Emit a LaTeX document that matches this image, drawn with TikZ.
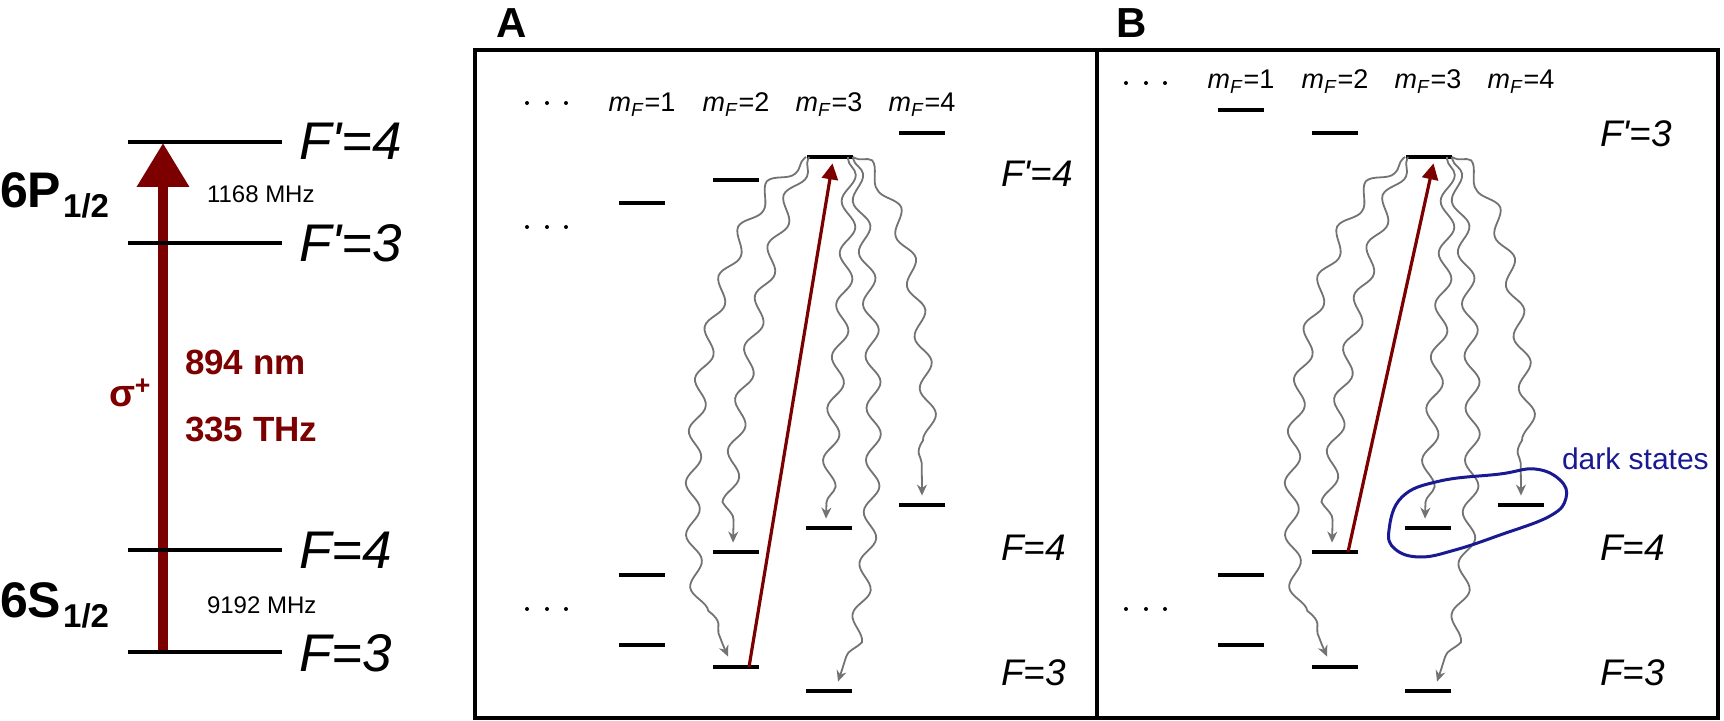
\documentclass[tikz,border=0pt]{standalone}
\usepackage{fontspec}
\setmainfont{Liberation Sans}
\usetikzlibrary{arrows.meta,decorations.pathmorphing}
\definecolor{dred}{RGB}{125,0,0}
\definecolor{wavegray}{RGB}{115,115,115}
\definecolor{darkblue}{RGB}{25,25,145}
\newcommand\paneldecays[1]{%
  \node[lvl] (#1g41) at (642,575) {};
  \node[lvl] (#1g42) at (736,552) {};
  \node[lvl] (#1g43) at (829,528) {};
  \node[lvl] (#1g44) at (922,505) {};
  \node[lvl] (#1g31) at (642,645) {};
  \node[lvl] (#1g32) at (736,667) {};
  \node[lvl] (#1g33) at (829,691) {};
  \node[lvl] (#1e3) at (829.5,157) {};
  \fill (527,609) circle[radius=1pt] (547,609) circle[radius=1pt] (566,609) circle[radius=1pt];
  \draw[decay] (#1e3.west) .. controls (700,230) and (680,560) .. ([xshift=-4pt,yshift=4pt]#1g32.north);
  \draw[decay] ([xshift=1.5pt]#1e3.west) .. controls (775,220) and (735,420) .. ([xshift=-1.5pt,yshift=3.5pt]#1g42.north);
  \draw[decay] ([xshift=-2.5pt]#1e3.east) .. controls (852,250) and (828,420) .. ([xshift=-1.5pt,yshift=3.5pt]#1g43.north);
  \draw[decay] (#1e3.east) .. controls (878,300) and (882,560) .. ([xshift=4.5pt,yshift=3.5pt]#1g33.north);
  \draw[decay] (#1e3.east) .. controls (905,185) and (922,380) .. ([yshift=3.5pt]#1g44.north);
}
\begin{document}
\begin{tikzpicture}[x=0.5pt,y=-0.5pt,
  txt/.style={inner sep=0pt, outer sep=0pt},
  bigline/.style={fill=black, inner sep=0pt, minimum width=77pt, minimum height=1.65pt},
  lvl/.style={fill=black, inner sep=0pt, minimum width=23pt, minimum height=2pt},
  bigF/.style={txt, anchor=base west, font=\fontsize{26.5}{30}\selectfont\itshape},
  panF/.style={txt, anchor=base west, font=\fontsize{18.5}{22}\selectfont\itshape},
  mlab/.style={txt, anchor=base, font=\fontsize{13.5}{16}\selectfont},
  mhz/.style={txt, anchor=base west, font=\fontsize{12}{14}\selectfont},
  redtxt/.style={txt, anchor=base west, text=dred, font=\fontsize{17.5}{20}\selectfont\bfseries},
  term/.style={txt, anchor=base west, font=\fontsize{25}{30}\selectfont\bfseries},
  panlab/.style={txt, anchor=base west, font=\fontsize{21}{25}\selectfont\bfseries},
  decay/.style={draw=wavegray, line width=0.9pt, -{Stealth[length=5.5pt,width=5pt]},
    decorate, decoration={snake, amplitude=3.6pt, segment length=26pt, pre length=1pt, post length=7pt}},
  pump/.style={draw=dred, line width=1.6pt, -{Triangle[length=8pt,width=8pt]}}
]
\useasboundingbox (0,0) rectangle (1724,721);

% ---------- left overview ----------
\coordinate (arrS) at (163,652);
\coordinate (arrE) at (163,143);
\draw[dred, line width=5pt, -{Triangle[length=22pt,width=25pt]}] (arrS) -- (arrE);
\node[bigline] (L4p) at (205,142) {};
\node[bigline] (L3p) at (205,243) {};
\node[bigline] (L4) at (205,550) {};
\node[bigline] (L3) at (205,652) {};
\node[bigF] (tL4p) at (299,160) {F\textquotesingle=4};
\node[bigF] (tL3p) at (299,262) {F\textquotesingle=3};
\node[bigF] (tL4) at (299,568) {F=4};
\node[bigF] (tL3) at (299,671) {F=3};
\node[term] (t6P) at (0,208) {6P\hspace{1pt}\raisebox{-5pt}{\fontsize{16.5}{18}\selectfont 1/2}};
\node[term] (t6S) at (0,617) {6S\hspace{1pt}\raisebox{-5pt}{\fontsize{16.5}{18}\selectfont 1/2}};
\node[mhz] (tmhz1) at (207,203) {1168 MHz};
\node[mhz] (tmhz2) at (207,613) {9192 MHz};
\node[redtxt] (tnm) at (185,375) {894 nm};
\node[redtxt] (tthz) at (185,442) {335 THz};
\node[redtxt, font=\fontsize{19}{22}\selectfont\bfseries] (tsig) at (109,407) {σ\textsuperscript{+}};

% ---------- frames ----------
\node[panlab] (labA) at (496,38) {A};
\node[panlab] (labB) at (1116,38) {B};
\draw[line width=2pt] (475,50) rectangle (1718,718);
\draw[line width=2pt] (1097,50) -- (1097,718);

% ---------- panel A ----------
\fill (527,103) circle[radius=1pt] (547,103) circle[radius=1pt] (566,103) circle[radius=1pt];
\fill (527,227) circle[radius=1pt] (547,227) circle[radius=1pt] (566,227) circle[radius=1pt];
\node[mlab] (Am1) at (642,112) {\textit{m}\textsubscript{\textit{F}}=1};
\node[mlab] (Am2) at (736,112) {\textit{m}\textsubscript{\textit{F}}=2};
\node[mlab] (Am3) at (829,112) {\textit{m}\textsubscript{\textit{F}}=3};
\node[mlab] (Am4) at (922,112) {\textit{m}\textsubscript{\textit{F}}=4};
\node[lvl] (Ae1) at (642,203) {};
\node[lvl] (Ae2) at (736,180) {};
\node[lvl] (Ae4) at (922,133) {};
\begin{scope}
\paneldecays{A}
\end{scope}
\draw[pump] ([xshift=6.5pt]Ag32.center) -- ([xshift=1.5pt,yshift=-2pt]Ae3.south);
\node[panF] (tA1) at (1001,187) {F\textquotesingle=4};
\node[panF] (tA2) at (1001,560) {F=4};
\node[panF] (tA3) at (1001,685) {F=3};

% ---------- panel B ----------
\fill (1126,83) circle[radius=1pt] (1146,83) circle[radius=1pt] (1165,83) circle[radius=1pt];
\node[mlab] (Bm1) at (1241,89) {\textit{m}\textsubscript{\textit{F}}=1};
\node[mlab] (Bm2) at (1335,89) {\textit{m}\textsubscript{\textit{F}}=2};
\node[mlab] (Bm3) at (1428,89) {\textit{m}\textsubscript{\textit{F}}=3};
\node[mlab] (Bm4) at (1521,89) {\textit{m}\textsubscript{\textit{F}}=4};
\node[lvl] (Be1) at (1241,110) {};
\node[lvl] (Be2) at (1335,133) {};
\begin{scope}[xshift=299.5pt]
\paneldecays{B}
\end{scope}
\draw[pump] ([xshift=6.5pt]Bg42.center) -- ([xshift=2.5pt,yshift=-2pt]Be3.south);
\draw[darkblue, line width=1.5pt] plot[smooth cycle, tension=0.7] coordinates {
  (1389,530) (1402,497) (1440,481) (1500,474) (1535,469) (1560,480) (1566,498)
  (1550,516) (1500,535) (1455,550) (1420,557) (1395,549)};
\node[txt, anchor=base west, text=darkblue, font=\fontsize{15}{18}\selectfont] (tdark) at (1562,470) {dark states};
\node[panF] (tB1) at (1600,147) {F\textquotesingle=3};
\node[panF] (tB2) at (1600,560) {F=4};
\node[panF] (tB3) at (1600,685) {F=3};
\end{tikzpicture}
\end{document}
